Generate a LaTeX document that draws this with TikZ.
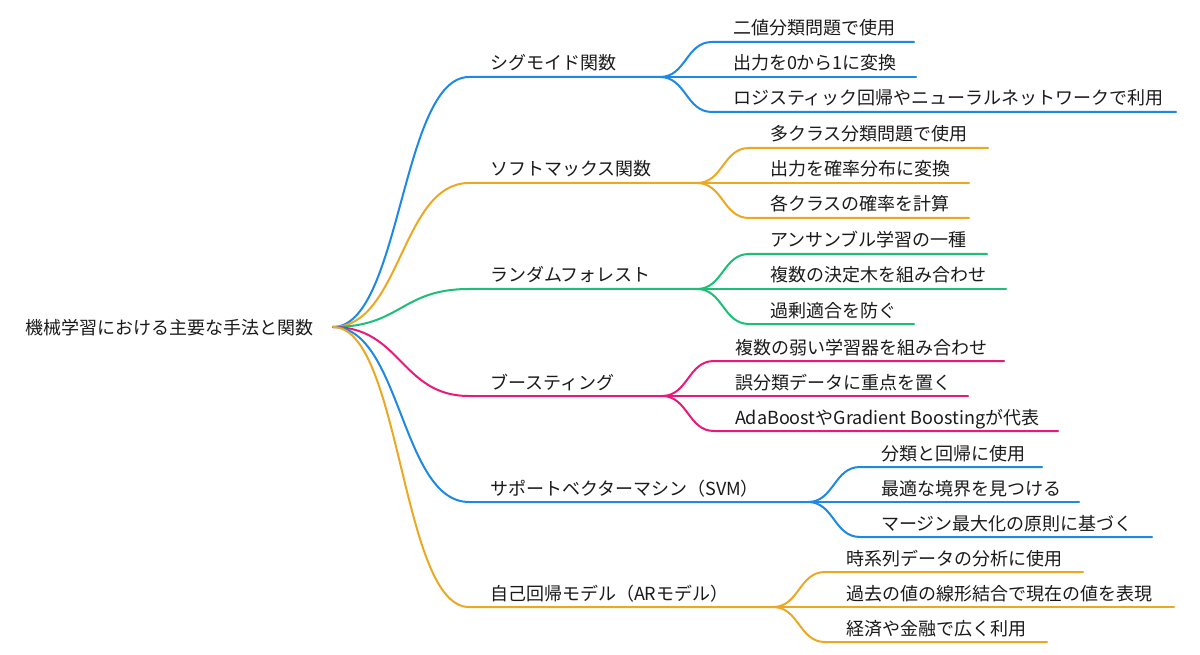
\documentclass[tikz,border=0pt]{standalone}
\usepackage{fontspec}
\setmainfont{Noto Sans CJK JP}
\definecolor{cblue}{HTML}{1E88E5}
\definecolor{corange}{HTML}{EDA823}
\definecolor{cgreen}{HTML}{1DBE78}
\definecolor{cpink}{HTML}{E8197A}
\definecolor{textc}{HTML}{1A1A1A}
\tikzset{
  lbl/.style={anchor=base west, inner sep=0pt, outer sep=0pt, text=textc, font=\fontsize{18}{22}\selectfont},
  link/.style={line width=2pt, line cap=round}
}
\begin{document}
\begin{tikzpicture}[x=1pt,y=-1pt]
\useasboundingbox (0,0) rectangle (1200,655);
\node[lbl] (root) at (25,334.5) {機械学習における主要な手法と関数};
\coordinate (R) at (333,327);
% branches: index / line y / junction x / colour / text
\foreach \i/\ly/\jx/\col/\btxt in {
  1/77/660/cblue/シグモイド関数,
  2/183/697/corange/ソフトマックス関数,
  3/289/697/cgreen/ランダムフォレスト,
  4/396/662/cpink/ブースティング,
  5/502/808/cblue/サポートベクターマシン（SVM）,
  6/607/773/corange/自己回帰モデル（ARモデル）}{
  \node[lbl] (b\i) at (490,\ly-7) {\btxt};
  \coordinate (j\i) at (\jx,\ly);
  \draw[link,\col] (R) .. controls (401,327) and (401,\ly) .. (469,\ly) -- (j\i);
}
% children: branch / k / branch line y / junction x / child line y / line end x / colour / text
\foreach \i/\k/\ly/\jx/\cy/\ex/\col/\ctxt in {
  1/1/77/660/42/914/cblue/二値分類問題で使用,
  1/2/77/660/77/916/cblue/出力を0から1に変換,
  1/3/77/660/112/1176/cblue/ロジスティック回帰やニューラルネットワークで利用,
  2/1/183/697/148/988/corange/多クラス分類問題で使用,
  2/2/183/697/183/969/corange/出力を確率分布に変換,
  2/3/183/697/218/969/corange/各クラスの確率を計算,
  3/1/289/697/254/987/cgreen/アンサンブル学習の一種,
  3/2/289/697/289/1006/cgreen/複数の決定木を組み合わせ,
  3/3/289/697/324/914/cgreen/過剰適合を防ぐ,
  4/1/396/662/361/1004/cpink/複数の弱い学習器を組み合わせ,
  4/2/396/662/396/968/cpink/誤分類データに重点を置く,
  4/3/396/662/431/1058/cpink/AdaBoostやGradient Boostingが代表,
  5/1/502/808/467/1042/cblue/分類と回帰に使用,
  5/2/502/808/502/1079/cblue/最適な境界を見つける,
  5/3/502/808/537/1152/cblue/マージン最大化の原則に基づく,
  6/1/607/773/572/1083/corange/時系列データの分析に使用,
  6/2/607/773/607/1174/corange/過去の値の線形結合で現在の値を表現,
  6/3/607/773/642/1047/corange/経済や金融で広く利用}{
  \node[lbl] (c\i\k) at (\jx+73,\cy-7) {\ctxt};
  \coordinate (e\i\k) at (\ex,\cy);
  \draw[link,\col] (j\i) .. controls (\jx+26,\ly) and (\jx+26,\cy) .. (\jx+52,\cy) -- (e\i\k);
}
\end{tikzpicture}
\end{document}
